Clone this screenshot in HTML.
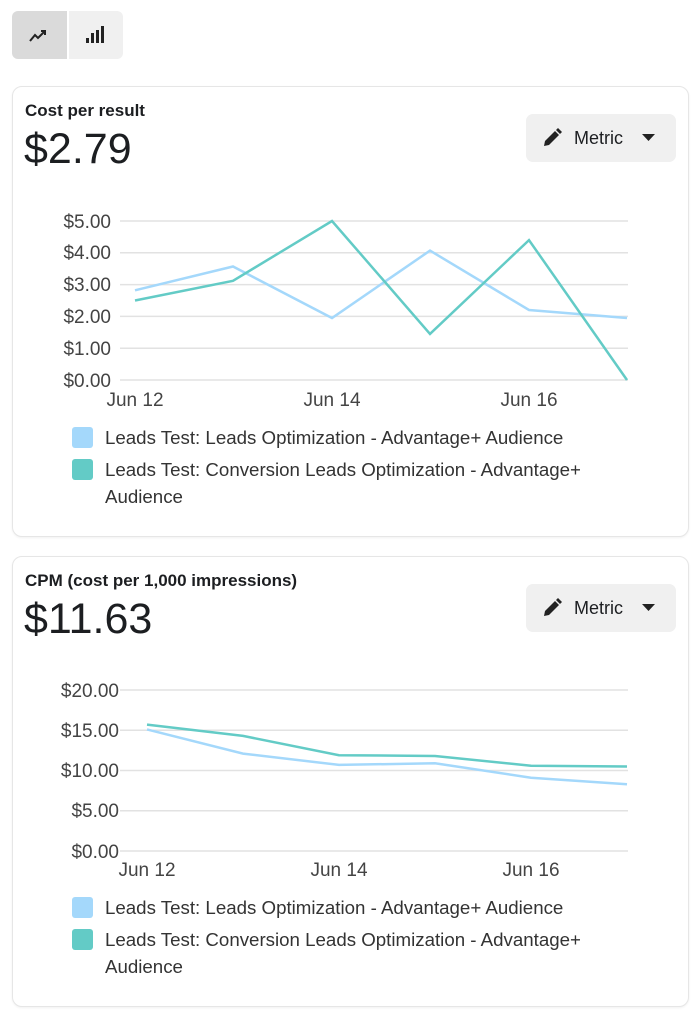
<!DOCTYPE html>
<html><head><meta charset="utf-8"><style>
body{margin:0;width:700px;height:1015px;background:#fff;font-family:"Liberation Sans",sans-serif;color:#1c1e21;position:relative;overflow:hidden}
.a{position:absolute}
.card{position:absolute;left:12px;width:675px;border:1px solid #e6e6e6;border-radius:10px;background:#fff;box-shadow:0 1px 2px rgba(0,0,0,.06)}
.title{position:absolute;left:12px;font-weight:bold;font-size:17px}
.big{position:absolute;left:11px;font-size:43px;color:#1c1e21}
.btn{position:absolute;left:513px;width:150px;height:48px;background:#f0f0f0;border-radius:7px;font-size:18px}
.sw{position:absolute;width:21px;height:21px;border-radius:3px}
.lt{position:absolute;font-size:18.7px;color:#333;line-height:27px}
svg text{font-family:"Liberation Sans",sans-serif;font-size:19px;fill:#444}
</style></head><body>
<div class="a" style="left:12px;top:11px;width:55px;height:48px;background:#dadada;border-radius:6px 0 0 6px"></div>
<div class="a" style="left:69px;top:11px;width:54px;height:48px;background:#f0f0f0;border-radius:0 6px 6px 0"></div>
<svg class="a" style="left:0;top:0" width="130" height="60">
<polyline points="30,41 35,35 38,38 45,31" fill="none" stroke="#222" stroke-width="2"/>
<polyline points="41,31 45,31 45,35" fill="none" stroke="#222" stroke-width="2"/>
<rect x="86" y="38" width="3" height="5" fill="#222"/><rect x="91" y="33" width="3" height="10" fill="#222"/><rect x="96" y="30" width="3" height="13" fill="#222"/><rect x="101" y="26" width="3" height="17" fill="#222"/>
</svg>

<div class="card" style="top:86px;height:449px">
<div class="title" style="top:14px">Cost per result</div>
<div class="big" style="top:38px">$2.79</div>
<div class="btn" style="top:27px"><svg class="a" style="left:16px;top:14px" width="20" height="20"><path d="M2 18 L3 13 L13 3 L17 7 L7 17 Z" fill="#222"/><path d="M14 2 L16 0 L20 4 L18 6Z" fill="#222"/></svg><span class="a" style="left:48px;top:14px">Metric</span><svg class="a" style="left:116px;top:20px" width="14" height="8"><path d="M0 0H13L6.5 7Z" fill="#222"/></svg></div>
</div>
<svg class="a" style="left:0;top:190px" width="700" height="230">
<g stroke="#e2e2e2" stroke-width="1.5">
<line x1="120" x2="628" y1="31" y2="31"/><line x1="120" x2="628" y1="62.8" y2="62.8"/><line x1="120" x2="628" y1="94.6" y2="94.6"/><line x1="120" x2="628" y1="126.4" y2="126.4"/><line x1="120" x2="628" y1="158.2" y2="158.2"/><line x1="120" x2="628" y1="190" y2="190"/></g>
<g text-anchor="end"><text x="111" y="38">$5.00</text><text x="111" y="69">$4.00</text><text x="111" y="101">$3.00</text><text x="111" y="133">$2.00</text><text x="111" y="165">$1.00</text><text x="111" y="197">$0.00</text></g>
<g text-anchor="middle"><text x="135" y="216">Jun 12</text><text x="332" y="216">Jun 14</text><text x="529" y="216">Jun 16</text></g>
<polyline fill="none" stroke="#a4d8fb" stroke-width="2.5" points="135,100.3 233,76.5 332,128 430,60.6 529,120 627,128"/>
<polyline fill="none" stroke="#63cbc6" stroke-width="2.5" points="135,110.5 233,90.8 332,31 430,143.9 529,50.1 627,190"/>
</svg>
<div class="sw" style="left:72px;top:427px;background:#a4d8fb"></div>
<div class="sw" style="left:72px;top:459px;background:#63cbc6"></div>
<div class="lt" style="left:105px;top:424px">Leads Test: Leads Optimization - Advantage+ Audience</div>
<div class="lt" style="left:105px;top:456px;width:490px">Leads Test: Conversion Leads Optimization - Advantage+ Audience</div>

<div class="card" style="top:556px;height:449px">
<div class="title" style="top:14px">CPM (cost per 1,000 impressions)</div>
<div class="big" style="top:38px">$11.63</div>
<div class="btn" style="top:27px"><svg class="a" style="left:16px;top:14px" width="20" height="20"><path d="M2 18 L3 13 L13 3 L17 7 L7 17 Z" fill="#222"/><path d="M14 2 L16 0 L20 4 L18 6Z" fill="#222"/></svg><span class="a" style="left:48px;top:14px">Metric</span><svg class="a" style="left:116px;top:20px" width="14" height="8"><path d="M0 0H13L6.5 7Z" fill="#222"/></svg></div>
</div>
<svg class="a" style="left:0;top:660px" width="700" height="230">
<g stroke="#e2e2e2" stroke-width="1.5">
<line x1="120" x2="628" y1="30" y2="30"/><line x1="120" x2="628" y1="70.25" y2="70.25"/><line x1="120" x2="628" y1="110.5" y2="110.5"/><line x1="120" x2="628" y1="150.75" y2="150.75"/><line x1="120" x2="628" y1="191" y2="191"/></g>
<g text-anchor="end"><text x="119" y="37">$20.00</text><text x="119" y="77">$15.00</text><text x="119" y="117">$10.00</text><text x="119" y="157">$5.00</text><text x="119" y="198">$0.00</text></g>
<g text-anchor="middle"><text x="147" y="216">Jun 12</text><text x="339" y="216">Jun 14</text><text x="531" y="216">Jun 16</text></g>
<polyline fill="none" stroke="#a4d8fb" stroke-width="2.5" points="147,69.4 243,93.6 339,104.9 435,103.3 531,117.7 627,124.2"/>
<polyline fill="none" stroke="#63cbc6" stroke-width="2.5" points="147,64.6 243,75.9 339,95.2 435,96 531,105.7 627,106.5"/>
</svg>
<div class="sw" style="left:72px;top:897px;background:#a4d8fb"></div>
<div class="sw" style="left:72px;top:929px;background:#63cbc6"></div>
<div class="lt" style="left:105px;top:894px">Leads Test: Leads Optimization - Advantage+ Audience</div>
<div class="lt" style="left:105px;top:926px;width:490px">Leads Test: Conversion Leads Optimization - Advantage+ Audience</div>
</body></html>
